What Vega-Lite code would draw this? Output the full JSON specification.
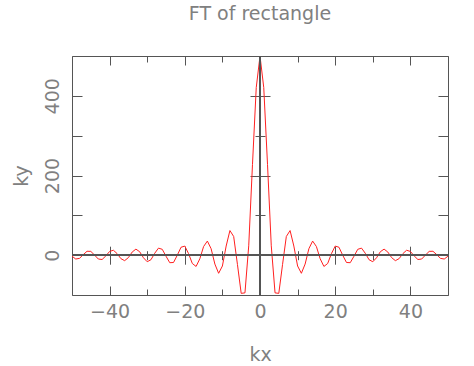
{
  "$schema": "https://vega.github.io/schema/vega-lite/v6.json",
  "width": 376,
  "height": 239,
  "autosize": {"type": "none"},
  "padding": {"left": 72, "top": 56, "right": 26, "bottom": 71},
  "title": {"text": "FT of rectangle", "fontSize": 19, "font": "DejaVu Sans", "fontWeight": "normal", "color": "#808080", "offset": 13, "baseline": "bottom"},
  "config": {
    "view": {"stroke": "#555", "strokeWidth": 1},
    "axis": {"domain": false, "grid": false, "tickColor": "#555", "tickWidth": 1, "labelFont": "DejaVu Sans", "labelFontSize": 19, "labelColor": "#808080", "titleFont": "DejaVu Sans", "titleFontSize": 19, "titleColor": "#808080", "titleFontWeight": "normal"}
  },
  "datasets": {
    "ft": [
      {"k": -50, "v": -2.6}, {"k": -49, "v": -9.7}, {"k": -48, "v": -8.0}, {"k": -47, "v": 1.3}, {"k": -46, "v": 9.8},
      {"k": -45, "v": 9.5}, {"k": -44, "v": 0.2}, {"k": -43, "v": -9.7}, {"k": -42, "v": -10.9}, {"k": -41, "v": -1.9},
      {"k": -40, "v": 9.3}, {"k": -39, "v": 12.4}, {"k": -38, "v": 3.9}, {"k": -37, "v": -8.7}, {"k": -36, "v": -13.8},
      {"k": -35, "v": -6.1}, {"k": -34, "v": 7.8}, {"k": -33, "v": 15.2}, {"k": -32, "v": 8.6}, {"k": -31, "v": -6.5},
      {"k": -30, "v": -16.5}, {"k": -29, "v": -11.4}, {"k": -28, "v": 4.8}, {"k": -27, "v": 17.7}, {"k": -26, "v": 14.7},
      {"k": -25, "v": -2.6}, {"k": -24, "v": -18.9}, {"k": -23, "v": -18.4}, {"k": -22, "v": -0.2}, {"k": -21, "v": 19.9},
      {"k": -20, "v": 22.8}, {"k": -19, "v": 3.9}, {"k": -18, "v": -20.9}, {"k": -17, "v": -28.3}, {"k": -16, "v": -9.0},
      {"k": -15, "v": 21.7}, {"k": -14, "v": 35.4}, {"k": -13, "v": 16.2}, {"k": -12, "v": -22.4}, {"k": -11, "v": -45.5},
      {"k": -10, "v": -27.2}, {"k": -9, "v": 22.9}, {"k": -8, "v": 61.8}, {"k": -7, "v": 46.9}, {"k": -6, "v": -23.3},
      {"k": -5, "v": -95.9}, {"k": -4, "v": -94.6}, {"k": -3, "v": 23.5}, {"k": -2, "v": 227.3}, {"k": -1, "v": 420.7},
      {"k": 0, "v": 500},
      {"k": 1, "v": 420.7}, {"k": 2, "v": 227.3}, {"k": 3, "v": 23.5}, {"k": 4, "v": -94.6}, {"k": 5, "v": -95.9},
      {"k": 6, "v": -23.3}, {"k": 7, "v": 46.9}, {"k": 8, "v": 61.8}, {"k": 9, "v": 22.9}, {"k": 10, "v": -27.2},
      {"k": 11, "v": -45.5}, {"k": 12, "v": -22.4}, {"k": 13, "v": 16.2}, {"k": 14, "v": 35.4}, {"k": 15, "v": 21.7},
      {"k": 16, "v": -9.0}, {"k": 17, "v": -28.3}, {"k": 18, "v": -20.9}, {"k": 19, "v": 3.9}, {"k": 20, "v": 22.8},
      {"k": 21, "v": 19.9}, {"k": 22, "v": -0.2}, {"k": 23, "v": -18.4}, {"k": 24, "v": -18.9}, {"k": 25, "v": -2.6},
      {"k": 26, "v": 14.7}, {"k": 27, "v": 17.7}, {"k": 28, "v": 4.8}, {"k": 29, "v": -11.4}, {"k": 30, "v": -16.5},
      {"k": 31, "v": -6.5}, {"k": 32, "v": 8.6}, {"k": 33, "v": 15.2}, {"k": 34, "v": 7.8}, {"k": 35, "v": -6.1},
      {"k": 36, "v": -13.8}, {"k": 37, "v": -8.7}, {"k": 38, "v": 3.9}, {"k": 39, "v": 12.4}, {"k": 40, "v": 9.3},
      {"k": 41, "v": -1.9}, {"k": 42, "v": -10.9}, {"k": 43, "v": -9.7}, {"k": 44, "v": 0.2}, {"k": 45, "v": 9.5},
      {"k": 46, "v": 9.8}, {"k": 47, "v": 1.3}, {"k": 48, "v": -8.0}, {"k": 49, "v": -9.7}, {"k": 50, "v": -2.6}
    ]
  },
  "data": {"name": "ft"},
  "resolve": {"axis": {"x": "independent", "y": "independent"}},
  "layer": [
    {
      "mark": {"type": "line", "color": "#ff2020", "strokeWidth": 1, "clip": true},
      "encoding": {
        "x": {"field": "k", "type": "quantitative", "scale": {"domain": [-50, 50], "nice": false, "zero": false},
              "axis": {"orient": "bottom", "values": [-40, -20, 0, 20, 40], "tickSize": -9, "labelPadding": 16, "title": "kx", "titlePadding": 24}},
        "y": {"field": "v", "type": "quantitative", "scale": {"domain": [-100, 500], "nice": false, "zero": false},
              "axis": {"orient": "left", "values": [0, 100, 200, 300, 400], "tickSize": -10, "labelExpr": "datum.value % 200 == 0 ? datum.label : ''", "labelAngle": -90, "labelAlign": "center", "labelBaseline": "bottom", "labelPadding": 20, "title": "ky", "titlePadding": 12}}
      }
    },
    {
      "mark": {"type": "line", "opacity": 0},
      "encoding": {
        "x": {"field": "k", "type": "quantitative", "axis": {"orient": "bottom", "values": [-50, -30, -10, 10, 30, 50], "tickSize": -6, "labels": false, "title": null}},
        "y": {"field": "v", "type": "quantitative", "axis": {"orient": "right", "values": [100, 200, 300, 400], "tickSize": -10, "labels": false, "title": null}}
      }
    },
    {
      "mark": {"type": "line", "opacity": 0},
      "encoding": {
        "x": {"field": "k", "type": "quantitative", "axis": {"orient": "top", "values": [-40, -20, 0, 20, 40], "tickSize": -9, "labels": false, "title": null}},
        "y": {"field": "v", "type": "quantitative", "axis": {"orient": "left", "values": [200, 400], "offset": -198, "tickSize": 20, "labels": false, "title": null}}
      }
    },
    {
      "mark": {"type": "line", "opacity": 0},
      "encoding": {
        "x": {"field": "k", "type": "quantitative", "axis": {"orient": "top", "values": [-50, -30, -10, 10, 30, 50], "tickSize": -6, "labels": false, "title": null}},
        "y": {"field": "v", "type": "quantitative", "axis": {"orient": "left", "values": [100, 300], "offset": -193, "tickSize": 10, "labels": false, "title": null}}
      }
    },
    {
      "mark": {"type": "line", "opacity": 0},
      "encoding": {
        "x": {"field": "k", "type": "quantitative", "axis": {"orient": "bottom", "values": [-40, -20, 20, 40], "offset": -48.8, "tickSize": 18, "labels": false, "title": null}},
        "y": {"field": "v", "type": "quantitative", "axis": null}
      }
    },
    {
      "mark": {"type": "line", "opacity": 0},
      "encoding": {
        "x": {"field": "k", "type": "quantitative", "axis": {"orient": "bottom", "values": [-30, -10, 10, 30], "offset": -44.3, "tickSize": 9, "labels": false, "title": null}},
        "y": {"field": "v", "type": "quantitative", "axis": null}
      }
    },
    {
      "mark": {"type": "rule", "color": "#555", "strokeWidth": 1},
      "encoding": {"y": {"datum": 0, "type": "quantitative", "axis": null}}
    },
    {
      "mark": {"type": "rule", "color": "#555", "strokeWidth": 1},
      "encoding": {"x": {"datum": 0, "type": "quantitative", "axis": null}}
    }
  ]
}
